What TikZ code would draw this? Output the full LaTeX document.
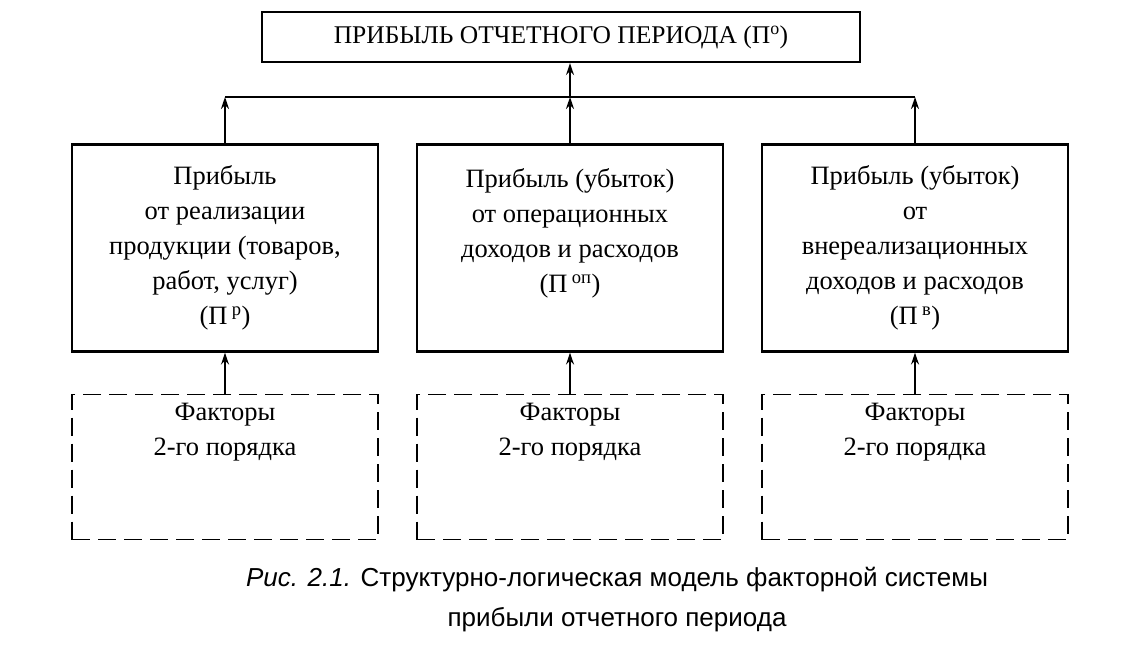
\documentclass[tikz,border=0pt]{standalone}
\usepackage{fontspec}
\setmainfont{Liberation Serif}
\newfontfamily\capfont{Liberation Sans}
\usetikzlibrary{arrows.meta}
\begin{document}
\begin{tikzpicture}[x=1pt,y=-1pt,
  box/.style={draw,line width=2.2pt,minimum width=306pt,minimum height=207pt,align=center,font=\fontsize{26.5}{35}\selectfont},
  fbox/.style={draw,line width=1.8pt,dash pattern=on 18pt off 8pt,minimum width=306pt,minimum height=145pt,align=center,font=\fontsize{26.5}{35}\selectfont},
  arr/.style={line width=1.8pt,-{Stealth[length=12pt,width=8pt]}}]
\useasboundingbox (0,0) rectangle (1137,653);
\node[draw,line width=2.2pt,minimum width=598pt,minimum height=50pt,font=\fontsize{25.5}{28}\selectfont] (top) at (561,37) {ПРИБЫЛЬ ОТЧЕТНОГО ПЕРИОДА (П\textsuperscript{о})};
\node[box] (a) at (225,248) {Прибыль\\от реализации\\продукции (товаров,\\работ, услуг)\\(П\,\textsuperscript{р})};
\node[box] (b) at (570,248) {Прибыль (убыток)\\от операционных\\доходов и расходов\\(П\,\textsuperscript{оп})\\[0pt]};
\node[box] (c) at (915,248) {Прибыль (убыток)\\от\\внереализационных\\доходов и расходов\\(П\,\textsuperscript{в})};
\node[fbox] (fa) at (225,467) {Факторы\\2-го порядка\\[40pt]};
\node[fbox] (fb) at (570,467) {Факторы\\2-го порядка\\[40pt]};
\node[fbox] (fc) at (915,467) {Факторы\\2-го порядка\\[40pt]};
\coordinate (j) at (570,97);
\coordinate (ja) at (a.north |- j);
\coordinate (jc) at (c.north |- j);
\draw[line width=1.8pt] (ja) -- (jc);
\draw[arr] (a.north) -- (ja);
\draw[arr] (c.north) -- (jc);
\draw[arr] (b.north) -- (j);
\draw[arr] (j) -- (j |- top.south);
\draw[arr] (fa) -- (a);
\draw[arr] (fb) -- (b);
\draw[arr] (fc) -- (c);
\node[font=\capfont\fontsize{26}{40}\selectfont,align=center] (cap) at (617,600) {\textit{Рис. 2.1.} Структурно-логическая модель факторной системы\\прибыли отчетного периода};
\end{tikzpicture}
\end{document}
